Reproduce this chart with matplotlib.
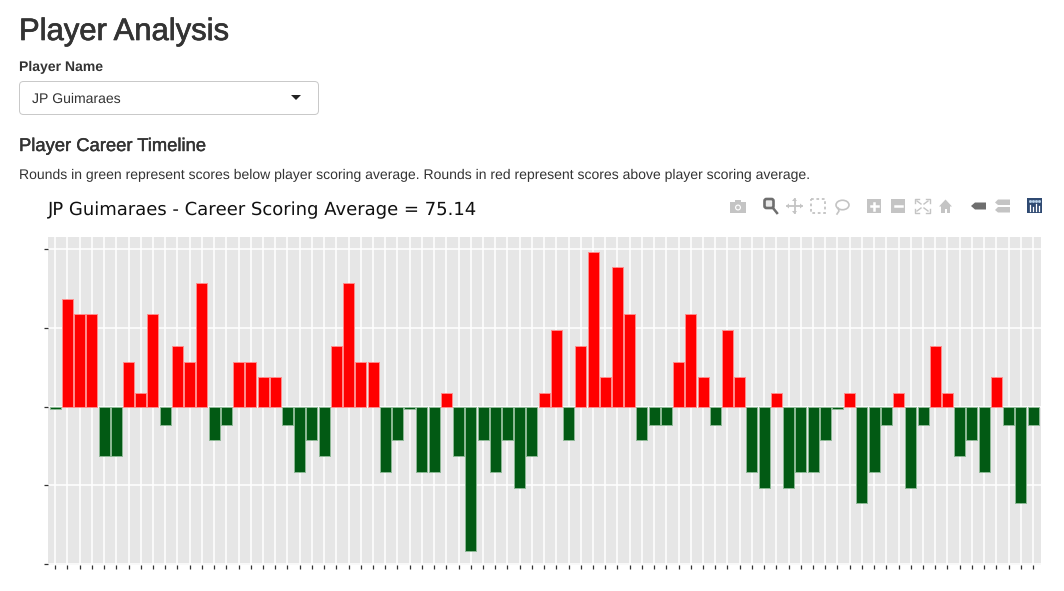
"""Player career timeline page with the scoring bars."""

# ---------- Imports ---------- #
import numpy as np
import matplotlib

matplotlib.use("Agg")
import matplotlib.pyplot as plt
import matplotlib.patheffects as pe
from matplotlib.patches import Circle, Ellipse, FancyBboxPatch, Polygon, Rectangle

plt.rcParams["text.hinting"] = "no_hinting"
plt.rcParams["text.hinting_factor"] = 1

# ---------- Data ---------- #
page_title = "Player Analysis"
select_label = "Player Name"
player_name = "JP Guimaraes"
section_title = "Player Career Timeline"
section_note = (
    "Rounds in green represent scores below player scoring average. "
    "Rounds in red represent scores above player scoring average."
)
chart_title = "JP Guimaraes - Career Scoring Average = 75.14"

# strokes relative to the career average, one per round
score_diff = [
    -0.14, 6.86, 5.86, 5.86, -3.14, -3.14, 2.86, 0.86, 5.86, -1.14,
    3.86, 2.86, 7.86, -2.14, -1.14, 2.86, 2.86, 1.86, 1.86, -1.14,
    -4.14, -2.14, -3.14, 3.86, 7.86, 2.86, 2.86, -4.14, -2.14, -0.14,
    -4.14, -4.14, 0.86, -3.14, -9.14, -2.14, -4.14, -2.14, -5.14, -3.14,
    0.86, 4.86, -2.14, 3.86, 9.86, 1.86, 8.86, 5.86, -2.14, -1.14,
    -1.14, 2.86, 5.86, 1.86, -1.14, 4.86, 1.86, -4.14, -5.14, 0.86,
    -5.14, -4.14, -4.14, -2.14, -0.14, 0.86, -6.14, -4.14, -1.14, 0.86,
    -5.14, -1.14, 3.86, 0.86, -3.14, -2.14, -4.14, 1.86, -1.14, -6.14,
    -1.14,
]
y_ticks = [-10, -5, 0, 5, 10]

# ---------- Style ---------- #
WIDTH, HEIGHT = 1064, 591
SANS = "Liberation Sans"
TEXT = "#333333"
ICON = "#c4c4c4"
ICON_ON = "#6e6e6e"
RED = "#ff0000"
GREEN = "#025a14"


# ---------- Helper Functions ---------- #
def px(size):
    """Font size in points from CSS pixels."""
    return size * 0.72


def add_text(ui, x, y, text, size, weight="normal", color=TEXT, family=SANS, stroke=0):
    """Put text at a pixel position; stroke thickens it to a medium weight."""
    label = ui.text(x, y, text, fontsize=px(size), fontweight=weight, color=color,
                    family=family, va="baseline", ha="left")
    if stroke:
        label.set_path_effects([pe.withStroke(linewidth=stroke, foreground=color)])


def draw_header(ui):
    """Page heading, select box and section text."""
    add_text(ui, 19, 40, page_title, 31, stroke=0.5)
    add_text(ui, 19, 71, select_label, 13.8, weight="bold")
    ui.add_patch(FancyBboxPatch((19.5, 81.5), 299, 33,
                                boxstyle="round,pad=0,rounding_size=4",
                                fc="white", ec="#c8c8c8", lw=0.7))
    add_text(ui, 32, 103, player_name, 14)
    ui.add_patch(Polygon([(291, 95), (301, 95), (296, 100)], fc="#222222", ec="none"))
    add_text(ui, 19, 151, section_title, 18.4, stroke=0.3)
    add_text(ui, 19, 179, section_note, 14.03)
    add_text(ui, 48, 215, chart_title, 17.72, color="#111111", family="DejaVu Sans")


def draw_toolbar(ui):
    """Plot toolbar icons, roughly drawn."""
    # camera
    ui.add_patch(Rectangle((730, 202), 16, 11, fc=ICON, ec="none"))
    ui.add_patch(Rectangle((735, 200), 6, 3, fc=ICON, ec="none"))
    ui.add_patch(Circle((738, 207.5), 3, fc="white", ec="none"))
    ui.add_patch(Circle((738, 207.5), 1.8, fc=ICON, ec="none"))
    # zoom, active
    ui.add_patch(FancyBboxPatch((764.5, 199), 9, 9, boxstyle="round,pad=0,rounding_size=2",
                                fc="#e8e8e8", ec=ICON_ON, lw=1.9))
    ui.plot([773, 777], [208, 213], color=ICON_ON, lw=1.8)
    # pan
    ui.plot([794.5, 794.5], [199, 213], color=ICON, lw=1.3)
    ui.plot([787, 802], [206, 206], color=ICON, lw=1.3)
    for tip in ([(794.5, 198), (792, 201), (797, 201)], [(794.5, 214), (792, 211), (797, 211)],
                [(786, 206), (789, 203.5), (789, 208.5)], [(803, 206), (800, 203.5), (800, 208.5)]):
        ui.add_patch(Polygon(tip, fc=ICON, ec="none"))
    # box select
    ui.add_patch(Rectangle((811, 199), 14, 14, fc="none", ec=ICON, lw=1.3, ls=(0, (1.5, 1.5))))
    # lasso
    ui.add_patch(Ellipse((842.5, 205), 13, 9.5, fc="none", ec=ICON, lw=1.2))
    ui.plot([838, 839, 837], [208, 211, 214], color=ICON, lw=1.2)
    # zoom in and out
    for x0 in (867, 891):
        ui.add_patch(Rectangle((x0, 199), 14, 14, fc=ICON, ec="none"))
        ui.plot([x0 + 3.5, x0 + 10.5], [206, 206], color="white", lw=1.8)
    ui.plot([874, 874], [202.5, 209.5], color="white", lw=1.8)
    # autoscale corners
    for cx, sx in ((915, 1), (930, -1)):
        for cy, sy in ((199, 1), (213, -1)):
            ui.plot([cx + 4 * sx, cx, cx], [cy, cy, cy + 4 * sy], color=ICON, lw=1)
            ui.plot([cx + 2 * sx, cx + 6 * sx], [cy + 2 * sy, cy + 5 * sy], color=ICON, lw=1)
    # home
    ui.add_patch(Polygon([(939, 206.5), (945.5, 199.5), (952, 206.5)], fc=ICON, ec="none"))
    ui.add_patch(Rectangle((941, 206), 9, 6.5, fc=ICON, ec="none"))
    ui.add_patch(Rectangle((944.5, 209), 2, 3.5, fc="white", ec="none"))
    # hover toggles
    ui.add_patch(Polygon([(971, 206), (975, 202.5), (986, 202.5), (986, 209.5), (975, 209.5)],
                         fc=ICON_ON, ec="none"))
    ui.add_patch(Polygon([(995, 202.5), (998, 199.5), (1010, 199.5), (1010, 205), (998, 205)],
                         fc=ICON, ec="none"))
    ui.add_patch(Polygon([(995, 210), (998, 207), (1010, 207), (1010, 212.5), (998, 212.5)],
                         fc=ICON, ec="none"))
    # logo block
    ui.add_patch(Rectangle((1027, 198), 15, 15, fc="#2f4a72", ec="none"))
    for x0, h in zip((1030, 1033, 1036, 1039), (6, 4, 7, 5)):
        ui.plot([x0, x0], [211, 211 - h], color="white", lw=0.9)
        ui.plot([x0], [201], marker="s", ms=1, color="#b8d0e8")


# ---------- Main Function ---------- #
def main():
    fig = plt.figure(figsize=(WIDTH / 100, HEIGHT / 100), dpi=100, facecolor="white")

    # pixel overlay for the page around the chart
    ui = fig.add_axes([0, 0, 1, 1])
    ui.set_xlim(0, WIDTH)
    ui.set_ylim(HEIGHT, 0)
    ui.axis("off")
    draw_header(ui)
    draw_toolbar(ui)

    left, right, top, bottom = 48, 1041, 236.7, 565
    ax = fig.add_axes([left / WIDTH, 1 - bottom / HEIGHT,
                       (right - left) / WIDTH, (bottom - top) / HEIGHT])
    ax.set_facecolor("#e6e6e6")

    diff = np.array(score_diff)
    rounds = np.arange(1, len(diff) + 1)
    colors = np.where(diff > 0, RED, GREEN)
    edges = [(1, 0.55, 0.55, 1) if d > 0 else (0.55, 0.72, 0.58, 1) for d in diff]
    ax.bar(rounds, diff, width=0.9, color=colors, edgecolor=edges, linewidth=0.7, zorder=3)

    ax.set_xlim(0.41, 81.65)
    ax.set_ylim(-10.05, 10.8)
    ax.set_xticks(rounds)
    ax.set_yticks(y_ticks)
    ax.set_xticklabels([])
    ax.set_yticklabels([])
    ax.grid(True, color="white", linewidth=1.1, zorder=1)
    ax.set_axisbelow(True)
    ax.tick_params(axis="both", length=3, width=0.9, color="#333333", pad=1)
    for spine in ax.spines.values():
        spine.set_visible(False)

    fig.savefig("out.png", dpi=100)
    plt.close(fig)


if __name__ == "__main__":
    main()
